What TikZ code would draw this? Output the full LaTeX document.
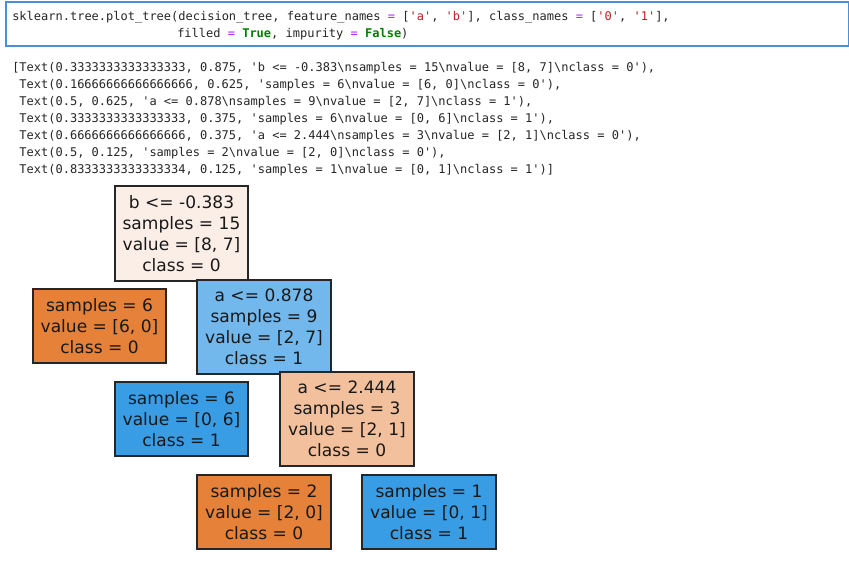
\documentclass[tikz,border=0pt]{standalone}
\usepackage{fontspec}
\setmainfont{DejaVu Sans}
\newfontfamily\mono{DejaVu Sans Mono}
\usetikzlibrary{arrows.meta,backgrounds}
\definecolor{kw}{HTML}{AA22FF}
\definecolor{str}{HTML}{BA2121}
\definecolor{grn}{HTML}{008000}
\definecolor{cbd}{HTML}{4A90D9}
\definecolor{c0}{HTML}{FBEEE6}
\definecolor{c1}{HTML}{E58139}
\definecolor{c2}{HTML}{72B8ED}
\definecolor{c3}{HTML}{399DE5}
\definecolor{c4}{HTML}{F2C09C}
\newcommand{\q}{\textquotesingle}
\newcommand{\bsl}{\textbackslash}
\newcommand{\eqs}{\textcolor{kw}{=}}
\newcommand{\st}[1]{\textcolor{str}{\q#1\q}}
\begin{document}
\begin{tikzpicture}[x=0.75pt,y=-0.75pt,
  codeline/.style={anchor=west,inner sep=0pt,font=\mono\fontsize{9}{11}\selectfont,text=black!85},
  treebox/.style={draw=black!85,line width=0.8pt,inner sep=0pt,font=\fontsize{12.8}{15.8}\selectfont,align=center,text=black!90},
  edge/.style={-{Stealth[length=6pt,width=6pt]},black!85,line width=0.6pt}]
\useasboundingbox[fill=white] (0,0) rectangle (849,565);
\draw[cbd,line width=0.8pt,fill=white] (6,2) rectangle (849,46);
\node[codeline] (l1) at (12,17) {sklearn.tree.plot\_tree(decision\_tree, feature\_names \eqs{} [\st{a}, \st{b}], class\_names \eqs{} [\st{0}, \st{1}],};
\node[codeline] (l2) at (177,34) {filled \eqs{} \textcolor{grn}{\bfseries True}, impurity \eqs{} \textcolor{grn}{\bfseries False})};
\node[codeline] (o1) at (12,68) {[Text(0.3333333333333333, 0.875, \q b <= -0.383\bsl nsamples = 15\bsl nvalue = [8, 7]\bsl nclass = 0\q),};
\node[codeline] (o2) at (19.2,85) {Text(0.16666666666666666, 0.625, \q samples = 6\bsl nvalue = [6, 0]\bsl nclass = 0\q),};
\node[codeline] (o3) at (19.2,102) {Text(0.5, 0.625, \q a <= 0.878\bsl nsamples = 9\bsl nvalue = [2, 7]\bsl nclass = 1\q),};
\node[codeline] (o4) at (19.2,119) {Text(0.3333333333333333, 0.375, \q samples = 6\bsl nvalue = [0, 6]\bsl nclass = 1\q),};
\node[codeline] (o5) at (19.2,136) {Text(0.6666666666666666, 0.375, \q a <= 2.444\bsl nsamples = 3\bsl nvalue = [2, 1]\bsl nclass = 0\q),};
\node[codeline] (o6) at (19.2,153) {Text(0.5, 0.125, \q samples = 2\bsl nvalue = [2, 0]\bsl nclass = 0\q),};
\node[codeline] (o7) at (19.2,170) {Text(0.8333333333333334, 0.125, \q samples = 1\bsl nvalue = [0, 1]\bsl nclass = 1\q)]};

\node[treebox,fill=c0,minimum width=133pt*0.75,minimum height=95pt*0.75] (n0) at (181.5,233.5) {b <= -0.383\\samples = 15\\value = [8, 7]\\class = 0};
\node[treebox,fill=c1,minimum width=133pt*0.75,minimum height=74pt*0.75] (n1) at (99.5,326) {samples = 6\\value = [6, 0]\\class = 0};
\node[treebox,fill=c2,minimum width=134pt*0.75,minimum height=94pt*0.75] (n2) at (264,327) {a <= 0.878\\samples = 9\\value = [2, 7]\\class = 1};
\node[treebox,fill=c3,minimum width=133pt*0.75,minimum height=74pt*0.75] (n3) at (181.5,419) {samples = 6\\value = [0, 6]\\class = 1};
\node[treebox,fill=c4,minimum width=134pt*0.75,minimum height=94pt*0.75] (n4) at (347,419) {a <= 2.444\\samples = 3\\value = [2, 1]\\class = 0};
\node[treebox,fill=c1,minimum width=134pt*0.75,minimum height=74pt*0.75] (n5) at (264,512) {samples = 2\\value = [2, 0]\\class = 0};
\node[treebox,fill=c3,minimum width=134pt*0.75,minimum height=74pt*0.75] (n6) at (429,512) {samples = 1\\value = [0, 1]\\class = 1};
\begin{scope}[on background layer]
\draw[edge] (n0.center) -- (n1.north);
\draw[edge] (n0.center) -- (n2.north);
\draw[edge] (n2.center) -- (n3.north);
\draw[edge] (n2.center) -- (n4.north);
\draw[edge] (n4.center) -- (n5.north);
\draw[edge] (n4.center) -- (n6.north);
\end{scope}
\end{tikzpicture}
\end{document}
